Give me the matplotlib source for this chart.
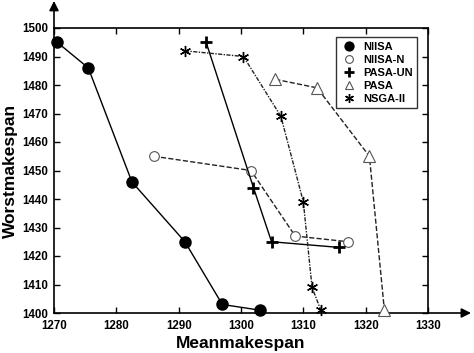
import matplotlib
matplotlib.use("Agg")
import matplotlib.pyplot as plt

plt.rcParams['font.family'] = ['Liberation Sans', 'DejaVu Sans']

niisa_x = [1270.5, 1275.5, 1282.5, 1291, 1297, 1303]
niisa_y = [1495, 1486, 1446, 1425, 1403, 1401]
niisan_x = [1286, 1301.6, 1308.7, 1317.2]
niisan_y = [1455, 1450, 1427, 1425]
pasaun_x = [1294.4, 1302, 1304.9, 1315.8]
pasaun_y = [1495, 1444, 1425, 1423]
pasa_x = [1305.5, 1312.2, 1320.6, 1323]
pasa_y = [1482, 1479, 1455, 1401]
nsga_x = [1291, 1300.4, 1306.4, 1310, 1311.4, 1312.8]
nsga_y = [1492, 1490, 1469, 1439, 1409, 1401]

xticks = [1270, 1280, 1290, 1300, 1310, 1320, 1330]
yticks = [1400, 1410, 1420, 1430, 1440, 1450, 1460, 1470, 1480, 1490, 1500]

fig = plt.figure(figsize=(4.74, 3.53), dpi=100)
ax = fig.add_axes([54/474, 40/353, 374/474, 285/353])

ax.plot(niisa_x, niisa_y, '-', color='black', lw=1.0, marker='o', ms=8,
        mfc='black', mec='black', label='NIISA', clip_on=False, zorder=3)
ax.plot(niisan_x, niisan_y, '--', color='#222222', lw=1.0, marker='o', ms=7,
        mfc='white', mec='#555555', mew=0.8, label='NIISA-N', clip_on=False, zorder=3)
ax.plot(pasaun_x, pasaun_y, '-', color='black', lw=1.0, marker='+', ms=9,
        mew=2.0, mec='black', label='PASA-UN', clip_on=False, zorder=3)
ax.plot(pasa_x, pasa_y, '--', color='#222222', lw=1.0, marker='^', ms=8,
        mfc='white', mec='#555555', mew=0.8, label='PASA', clip_on=False, zorder=3)
ax.plot(nsga_x, nsga_y, linestyle=(0, (3, 1, 1, 1)), color='#222222', lw=1.0,
        marker=(6, 2, 0), ms=8, mec='black', mew=1.0, label='NSGA-II',
        clip_on=False, zorder=3)

ax.set_xlim(1270, 1330)
ax.set_ylim(1400, 1500)
ax.set_xticks(xticks)
ax.set_yticks(yticks)
ax.tick_params(direction='in', top=True, right=True, length=4, width=1,
               labelsize=8.3)
ax.set_xticklabels([str(t) for t in xticks], fontweight='bold')
ax.set_yticklabels([str(t) for t in yticks], fontweight='bold')
ax.tick_params(axis='x', pad=5)
ax.tick_params(axis='y', pad=4)
for s in ax.spines.values():
    s.set_linewidth(1.2)

ax.set_xlabel('Meanmakespan', fontsize=12.5, fontweight='bold', labelpad=3)
ax.set_ylabel('Worstmakespan', fontsize=12.5, fontweight='bold', labelpad=3)

# axis arrows
ax.annotate('', xy=(1.115, 0), xytext=(1.0, 0), xycoords='axes fraction',
            arrowprops=dict(arrowstyle='-|>', color='black', lw=1.2,
                            mutation_scale=14, shrinkA=0, shrinkB=0))
ax.annotate('', xy=(0, 1.095), xytext=(0, 1.0), xycoords='axes fraction',
            arrowprops=dict(arrowstyle='-|>', color='black', lw=1.2,
                            mutation_scale=14, shrinkA=0, shrinkB=0))

leg = ax.legend(loc='upper right', bbox_to_anchor=(0.971, 0.968),
                borderaxespad=0, fontsize=8, markerscale=0.8,
                frameon=True, fancybox=False, edgecolor='black',
                handlelength=1.4, borderpad=0.4, labelspacing=0.28,
                handletextpad=0.6)
leg.get_frame().set_linewidth(1.0)
for t in leg.get_texts():
    t.set_fontweight('bold')
for h in leg.legend_handles:
    h.set_linestyle('None')

fig.savefig('out.png', dpi=100)
